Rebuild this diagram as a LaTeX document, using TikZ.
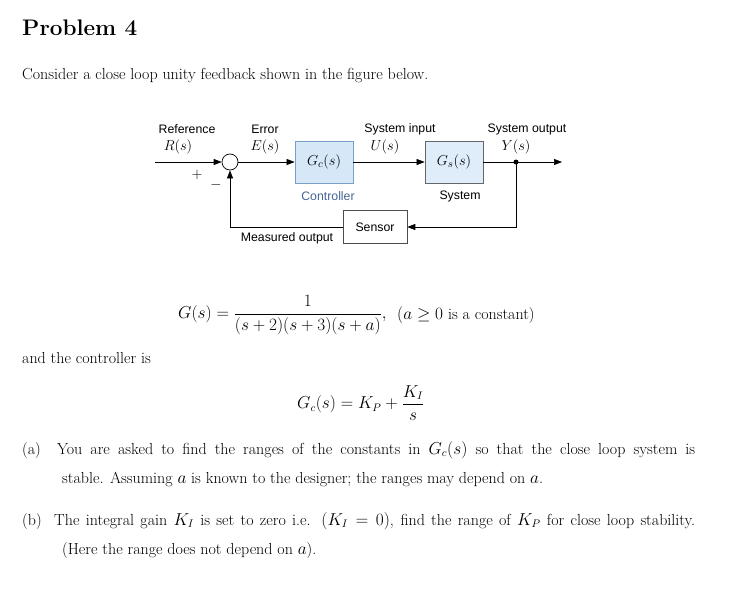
\documentclass[tikz,border=0pt]{standalone}
\usepackage{amsmath,amssymb}
\usepackage{fontspec}
\newfontfamily\diag{Liberation Sans}
\usetikzlibrary{arrows.meta}
\definecolor{bbox}{RGB}{214,232,248}
\definecolor{bedge}{RGB}{120,160,200}
\definecolor{ctext}{RGB}{70,100,150}
\tikzset{
 body/.style={anchor=base west,inner sep=0pt,font=\fontsize{16}{19}\selectfont},
 lab/.style={inner sep=0pt,font=\diag\fontsize{12.3}{14}\selectfont},
 sig/.style={inner sep=0pt,font=\fontsize{15}{17}\selectfont},
 blk/.style={draw=bedge,fill=bbox,minimum width=58pt,minimum height=42pt,line width=0.8pt,font=\fontsize{15}{17}\selectfont},
 sblk/.style={draw=black!70,fill=white,minimum width=64pt,minimum height=33pt,line width=0.6pt},
 arr/.style={-{Triangle[length=8pt,width=6pt]},line width=0.7pt},
 ln/.style={line width=0.7pt}
}
\begin{document}
\begin{tikzpicture}[x=1pt,y=-1pt]
\useasboundingbox (0,0) rectangle (730,615);
\node[body,font=\bfseries\fontsize{22.5}{26}\selectfont] (t) at (22,36) {Problem 4};
\node[body] (l1) at (22,80) {Consider a close loop unity feedback shown in the figure below.};
% diagram
\coordinate (in) at (155,162);
\node[draw,circle,minimum size=16pt,inner sep=0pt,line width=0.7pt] (sum) at (230,162) {};
\node[blk] (gc) at (324,162) {$G_c(s)$};
\node[blk,draw=black!60,fill=bbox!80] (gs) at (454,162) {$G_s(s)$};
\node[sblk] (sen) at (375,227) {\diag\fontsize{12.3}{14}\selectfont Sensor};
\fill (516,162) circle (2.5pt) coordinate (j);
\coordinate (out) at (562,162);
\draw[arr] (in) -- (sum);
\draw[arr] (sum) -- (gc);
\draw[arr] (gc) -- (gs);
\draw[arr] (gs) -- (out);
\draw[arr] (j) |- (sen);
\draw[arr] (sen) -| (sum);
\node[lab] (r1) at (187,129) {Reference};
\node[sig] (r2) at (178,147) {$R(s)$};
\node[lab] (e1) at (265,129) {Error};
\node[sig] (e2) at (265,147) {$E(s)$};
\node[lab] (u1) at (400,129) {System input};
\node[sig] (u2) at (385,147) {$U(s)$};
\node[lab] (y1) at (527,129) {System output};
\node[sig] (y2) at (516,147) {$Y(s)$};
\node[lab,text=ctext] (c1) at (328,196) {Controller};
\node[lab] (s1) at (460,196) {System};
\node[lab] (m1) at (287,238) {Measured output};
\node[sig] (pl) at (197,175) {$+$};
\node[sig] (mi) at (216,185) {$-$};
% equations
\node[anchor=west,inner sep=0pt,font=\fontsize{16}{19}\selectfont] (g) at (178,315) {$G(s)=\dfrac{1}{(s+2)(s+3)(s+a)},$};
\node[anchor=west,inner sep=0pt,font=\fontsize{16}{19}\selectfont] (g2) at (397,315) {$(a\ge 0$ is a constant)};
\node[body] (l2) at (22,363) {and the controller is};
\node[anchor=west,inner sep=0pt,font=\fontsize{16}{19}\selectfont] (gc2) at (297,403) {$G_c(s)=K_P+\dfrac{K_I}{s}$};
\node[body] (a1) at (22,454) {\makebox[673pt][s]{(a) \ You are asked to find the ranges of the constants in $G_c(s)$ so that the close loop system is}};
\node[body] (a2) at (62,483) {stable. Assuming $a$ is known to the designer; the ranges may depend on $a$.};
\node[body] (b1) at (22,525) {\makebox[673pt][s]{(b) \ The integral gain $K_I$ is set to zero i.e. $(K_I=0)$, find the range of $K_P$ for close loop stability.}};
\node[body] (b2) at (62,554) {(Here the range does not depend on $a$).};
\end{tikzpicture}
\end{document}
